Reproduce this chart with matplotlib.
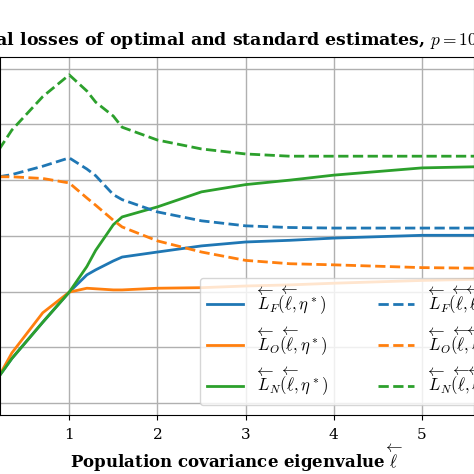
import numpy as np
import matplotlib.pyplot as plt

plt.rcParams['font.family'] = 'DejaVu Serif'
plt.rcParams['mathtext.fontset'] = 'cm'

# values (y in grid units)
x = [0.2, 0.35, 0.7, 1.0, 1.2, 1.3, 1.5, 1.6, 2.0, 2.5, 3.0, 3.5, 4.0, 5.0, 5.6]
lf_opt = [0.47, 0.8, 1.45, 1.99, 2.3, 2.39, 2.55, 2.62, 2.71, 2.82, 2.89, 2.92, 2.96, 3.01, 3.01]
lo_opt = [0.47, 0.9, 1.62, 1.99, 2.06, 2.05, 2.03, 2.03, 2.06, 2.07, 2.1, 2.12, 2.15, 2.2, 2.22]
ln_opt = [0.47, 0.8, 1.45, 1.99, 2.45, 2.74, 3.2, 3.34, 3.52, 3.79, 3.92, 4.0, 4.09, 4.22, 4.24]
lf_std = [4.06, 4.1, 4.25, 4.40, 4.2, 4.08, 3.74, 3.65, 3.43, 3.27, 3.18, 3.15, 3.14, 3.14, 3.14]
lo_std = [4.06, 4.06, 4.03, 3.95, 3.68, 3.55, 3.28, 3.16, 2.91, 2.71, 2.56, 2.5, 2.48, 2.43, 2.42]
ln_std = [4.54, 4.9, 5.5, 5.89, 5.6, 5.4, 5.15, 4.95, 4.72, 4.56, 4.47, 4.43, 4.43, 4.43, 4.43]

lab = [r'$\overleftarrow{L}_F(\overleftarrow{\ell},\eta^*)$',
       r'$\overleftarrow{L}_O(\overleftarrow{\ell},\eta^*)$',
       r'$\overleftarrow{L}_N(\overleftarrow{\ell},\eta^*)$',
       r'$\overleftarrow{L}_F(\overleftarrow{\ell},\overleftarrow{\ell})$',
       r'$\overleftarrow{L}_O(\overleftarrow{\ell},\overleftarrow{\ell})$',
       r'$\overleftarrow{L}_N(\overleftarrow{\ell},\overleftarrow{\ell})$']

fig = plt.figure(figsize=(4.74, 4.74), dpi=100)
ax = fig.add_axes([0, 0.1245, 1, 0.7552])
ax.plot(x, lf_opt, color='#1f77b4', lw=2, label=lab[0])
ax.plot(x, lo_opt, color='#ff7f0e', lw=2, label=lab[1])
ax.plot(x, ln_opt, color='#2ca02c', lw=2, label=lab[2])
ax.plot(x, lf_std, color='#1f77b4', lw=2, ls='--', label=lab[3])
ax.plot(x, lo_std, color='#ff7f0e', lw=2, ls='--', label=lab[4])
ax.plot(x, ln_std, color='#2ca02c', lw=2, ls='--', label=lab[5])

ax.set_xlim(0.215, 5.59)
ax.set_ylim(-0.215, 6.21)
ax.set_xticks([1, 2, 3, 4, 5])
ax.set_yticks(range(7))
ax.tick_params(labelleft=False, labelsize=11, pad=6)
ax.grid(True, color='#b0b0b0', lw=1)
ax.set_xlabel(r'Population covariance eigenvalue $\overleftarrow{\ell}$',
              fontsize=12, fontweight='bold', labelpad=0)
ax.legend(ncol=2, loc='lower left', bbox_to_anchor=(200 / 474, 1 - 405 / 474),
          bbox_transform=fig.transFigure, fontsize=12, columnspacing=3,
          handlelength=2.2, borderaxespad=0)
fig.text(486 / 474, 0.915, 'Empirical losses of optimal and standard estimates, $p = 100$',
         ha='right', va='center', fontsize=12.5, fontweight='bold')
fig.savefig('out.png', dpi=100)
